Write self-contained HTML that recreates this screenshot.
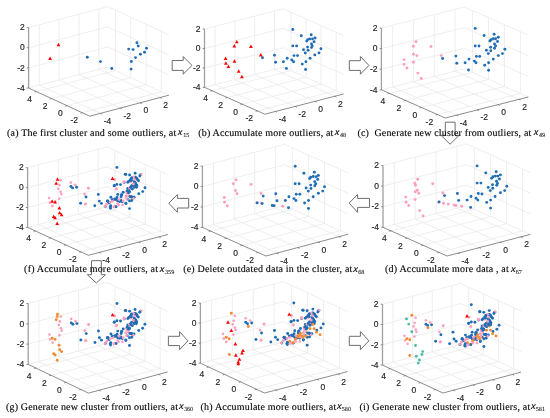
<!DOCTYPE html>
<html><head><meta charset="utf-8"><title>Incremental clustering process</title>
<style>
html,body{margin:0;padding:0;background:#fff;}
body{width:550px;height:418px;overflow:hidden;}
svg{display:block;}
.g{fill:none;stroke:#eaeaea;stroke-width:0.8;}
.ax{fill:none;stroke:#707070;stroke-width:0.8;}
.zax{fill:none;stroke:#a0a0a0;stroke-width:1.3;}
.tl text{font-family:"Liberation Sans",Arial,sans-serif;font-size:8.5px;fill:#222;stroke:#222;stroke-width:0.15px;}
.b{fill:#1f6db5;}
.p{fill:#ff9ebb;}
.o,.q{fill:#f28b32;}
.t{fill:#4dbba6;}
.r{fill:#ff0000;}
.arr{fill:#fff;stroke:#6e6e6e;stroke-width:1;stroke-linejoin:miter;}
.cap{font-family:"Liberation Serif","Times New Roman",serif;font-size:10px;fill:#000;stroke:#000;stroke-width:0.12px;text-rendering:geometricPrecision;}
.xi{font-style:italic;font-size:10.5px;}
.sub{font-size:12.4px;stroke:#333;stroke-width:0.2px;fill:#222;}
</style></head><body>
<svg width="550" height="418" viewBox="0 0 550 418">
<path class="g" d="M39.28 85.17L100.48 113.37M59.13 79.89L120.33 108.09M78.99 74.62L140.19 102.82M98.84 69.35L160.04 97.55M36.37 91.58L115.47 70.58M51.67 98.63L130.77 77.63M66.97 105.68L146.07 84.68M82.27 112.73L161.37 91.73M39.28 85.17L39.28 24.77M59.13 79.89L59.13 19.49M78.99 74.62L78.99 14.22M98.84 69.35L98.84 8.95M28.6 88L107.7 67M28.6 67.87L107.7 46.87M28.6 47.73L107.7 26.73M28.6 27.6L107.7 6.6M115.47 70.58L115.47 10.18M130.77 77.63L130.77 17.23M146.07 84.68L146.07 24.28M161.37 91.73L161.37 31.33M107.7 67L168.9 95.2M107.7 46.87L168.9 75.07M107.7 26.73L168.9 54.93M107.7 6.6L168.9 34.8"/>
<path class="zax" d="M28.6 88L28.6 27.6"/>
<path class="ax" d="M28.6 88L89.8 116.2M89.8 116.2L168.9 95.2M28.6 88L26.8 88M28.6 67.87L26.8 67.87M28.6 47.73L26.8 47.73M28.6 27.6L26.8 27.6M36.37 91.58L34.63 92.04M51.67 98.63L49.93 99.09M66.97 105.68L65.23 106.14M82.27 112.73L80.53 113.19M100.48 113.37L102.11 114.12M120.33 108.09L121.97 108.85M140.19 102.82L141.82 103.58M160.04 97.55L161.68 98.31"/>
<g class="tl"><text x="24.7" y="90.7" text-anchor="end">-4</text><text x="24.7" y="70.57" text-anchor="end">-2</text><text x="24.7" y="50.43" text-anchor="end">0</text><text x="24.7" y="30.3" text-anchor="end">2</text><text x="32.07" y="102.08" text-anchor="end">4</text><text x="47.37" y="109.13" text-anchor="end">2</text><text x="62.67" y="116.18" text-anchor="end">0</text><text x="77.97" y="123.23" text-anchor="end">-2</text><text x="103.68" y="123.87">-4</text><text x="123.53" y="118.59">-2</text><text x="143.39" y="113.32">0</text><text x="163.24" y="108.05">2</text></g>
<path class="g" d="M215.14 84.67L275.44 111.47M234.92 79.6L295.22 106.4M254.7 74.53L315 101.33M274.47 69.46L334.77 96.26M212.16 90.8L290.96 70.6M227.23 97.5L306.03 77.3M242.31 104.2L321.11 84M257.38 110.9L336.18 90.7M215.14 84.67L215.14 26.27M234.92 79.6L234.92 21.2M254.7 74.53L254.7 16.13M274.47 69.46L274.47 11.06M204.5 87.4L283.3 67.2M204.5 67.93L283.3 47.73M204.5 48.47L283.3 28.27M204.5 29L283.3 8.8M290.96 70.6L290.96 12.2M306.03 77.3L306.03 18.9M321.11 84L321.11 25.6M336.18 90.7L336.18 32.3M283.3 67.2L343.6 94M283.3 47.73L343.6 74.53M283.3 28.27L343.6 55.07M283.3 8.8L343.6 35.6"/>
<path class="zax" d="M204.5 87.4L204.5 29"/>
<path class="ax" d="M204.5 87.4L264.8 114.2M264.8 114.2L343.6 94M204.5 87.4L202.7 87.4M204.5 67.93L202.7 67.93M204.5 48.47L202.7 48.47M204.5 29L202.7 29M212.16 90.8L210.41 91.25M227.23 97.5L225.49 97.95M242.31 104.2L240.56 104.65M257.38 110.9L255.64 111.35M275.44 111.47L277.08 112.2M295.22 106.4L296.86 107.13M315 101.33L316.64 102.06M334.77 96.26L336.42 96.99"/>
<g class="tl"><text x="200.6" y="90.1" text-anchor="end">-4</text><text x="200.6" y="70.63" text-anchor="end">-2</text><text x="200.6" y="51.17" text-anchor="end">0</text><text x="200.6" y="31.7" text-anchor="end">2</text><text x="207.86" y="101.3" text-anchor="end">4</text><text x="222.93" y="108" text-anchor="end">2</text><text x="238.01" y="114.7" text-anchor="end">0</text><text x="253.08" y="121.4" text-anchor="end">-2</text><text x="278.64" y="121.97">-4</text><text x="298.42" y="116.9">-2</text><text x="318.2" y="111.83">0</text><text x="337.97" y="106.76">2</text></g>
<path class="g" d="M392.6 86.97L456.5 115.17M413.44 81.69L477.34 109.89M434.27 76.42L498.17 104.62M455.1 71.15L519 99.35M389.52 93.38L472.52 72.38M405.49 100.43L488.49 79.43M421.47 107.48L504.47 86.48M437.44 114.53L520.44 93.53M392.6 86.97L392.6 25.17M413.44 81.69L413.44 19.89M434.27 76.42L434.27 14.62M455.1 71.15L455.1 9.35M381.4 89.8L464.4 68.8M381.4 69.2L464.4 48.2M381.4 48.6L464.4 27.6M381.4 28L464.4 7M472.52 72.38L472.52 10.58M488.49 79.43L488.49 17.63M504.47 86.48L504.47 24.68M520.44 93.53L520.44 31.73M464.4 68.8L528.3 97M464.4 48.2L528.3 76.4M464.4 27.6L528.3 55.8M464.4 7L528.3 35.2"/>
<path class="zax" d="M381.4 89.8L381.4 28"/>
<path class="ax" d="M381.4 89.8L445.3 118M445.3 118L528.3 97M381.4 89.8L379.6 89.8M381.4 69.2L379.6 69.2M381.4 48.6L379.6 48.6M381.4 28L379.6 28M389.52 93.38L387.77 93.82M405.49 100.43L403.75 100.87M421.47 107.48L419.72 107.92M437.44 114.53L435.7 114.97M456.5 115.17L458.15 115.89M477.34 109.89L478.98 110.62M498.17 104.62L499.82 105.35M519 99.35L520.65 100.08"/>
<g class="tl"><text x="377.5" y="92.5" text-anchor="end">-4</text><text x="377.5" y="71.9" text-anchor="end">-2</text><text x="377.5" y="51.3" text-anchor="end">0</text><text x="377.5" y="30.7" text-anchor="end">2</text><text x="385.22" y="103.88" text-anchor="end">4</text><text x="401.19" y="110.93" text-anchor="end">2</text><text x="417.17" y="117.98" text-anchor="end">0</text><text x="433.14" y="125.03" text-anchor="end">-2</text><text x="459.7" y="125.67">-4</text><text x="480.54" y="120.39">-2</text><text x="501.37" y="115.12">0</text><text x="522.2" y="109.85">2</text></g>
<path class="g" d="M394.26 224.38L458.26 253.08M415.19 218.96L479.19 247.66M436.13 213.54L500.13 242.24M457.06 208.12L521.06 236.82M391.13 230.94L474.53 209.34M407.13 238.12L490.53 216.52M423.13 245.29L506.53 223.69M439.13 252.47L522.53 230.87M394.26 224.38L394.26 162.58M415.19 218.96L415.19 157.16M436.13 213.54L436.13 151.74M457.06 208.12L457.06 146.32M383 227.3L466.4 205.7M383 206.7L466.4 185.1M383 186.1L466.4 164.5M383 165.5L466.4 143.9M474.53 209.34L474.53 147.54M490.53 216.52L490.53 154.72M506.53 223.69L506.53 161.89M522.53 230.87L522.53 169.07M466.4 205.7L530.4 234.4M466.4 185.1L530.4 213.8M466.4 164.5L530.4 193.2M466.4 143.9L530.4 172.6"/>
<path class="zax" d="M383 227.3L383 165.5"/>
<path class="ax" d="M383 227.3L447 256M447 256L530.4 234.4M383 227.3L381.2 227.3M383 206.7L381.2 206.7M383 186.1L381.2 186.1M383 165.5L381.2 165.5M391.13 230.94L389.39 231.4M407.13 238.12L405.39 238.57M423.13 245.29L421.39 245.75M439.13 252.47L437.39 252.92M458.26 253.08L459.9 253.82M479.19 247.66L480.83 248.4M500.13 242.24L501.77 242.98M521.06 236.82L522.7 237.56"/>
<g class="tl"><text x="379.1" y="230" text-anchor="end">-4</text><text x="379.1" y="209.4" text-anchor="end">-2</text><text x="379.1" y="188.8" text-anchor="end">0</text><text x="379.1" y="168.2" text-anchor="end">2</text><text x="386.83" y="241.44" text-anchor="end">4</text><text x="402.83" y="248.62" text-anchor="end">2</text><text x="418.83" y="255.79" text-anchor="end">0</text><text x="434.83" y="262.97" text-anchor="end">-2</text><text x="461.46" y="263.58">-4</text><text x="482.39" y="258.16">-2</text><text x="503.33" y="252.74">0</text><text x="524.26" y="247.32">2</text></g>
<path class="g" d="M213.5 224.46L277.1 253.06M234.13 218.99L297.73 247.59M254.76 213.51L318.36 242.11M275.39 208.04L338.99 236.64M210.48 231.03L292.68 209.23M226.38 238.18L308.58 216.38M242.28 245.33L324.48 223.53M258.18 252.48L340.38 230.68M213.5 224.46L213.5 163.16M234.13 218.99L234.13 157.69M254.76 213.51L254.76 152.21M275.39 208.04L275.39 146.74M202.4 227.4L284.6 205.6M202.4 206.97L284.6 185.17M202.4 186.53L284.6 164.73M202.4 166.1L284.6 144.3M292.68 209.23L292.68 147.93M308.58 216.38L308.58 155.08M324.48 223.53L324.48 162.23M340.38 230.68L340.38 169.38M284.6 205.6L348.2 234.2M284.6 185.17L348.2 213.77M284.6 164.73L348.2 193.33M284.6 144.3L348.2 172.9"/>
<path class="zax" d="M202.4 227.4L202.4 166.1"/>
<path class="ax" d="M202.4 227.4L266 256M266 256L348.2 234.2M202.4 227.4L200.6 227.4M202.4 206.97L200.6 206.97M202.4 186.53L200.6 186.53M202.4 166.1L200.6 166.1M210.48 231.03L208.74 231.49M226.38 238.18L224.64 238.64M242.28 245.33L240.54 245.79M258.18 252.48L256.44 252.94M277.1 253.06L278.74 253.8M297.73 247.59L299.37 248.32M318.36 242.11L320 242.85M338.99 236.64L340.64 237.38"/>
<g class="tl"><text x="198.5" y="230.1" text-anchor="end">-4</text><text x="198.5" y="209.67" text-anchor="end">-2</text><text x="198.5" y="189.23" text-anchor="end">0</text><text x="198.5" y="168.8" text-anchor="end">2</text><text x="206.18" y="241.53" text-anchor="end">4</text><text x="222.08" y="248.68" text-anchor="end">2</text><text x="237.98" y="255.83" text-anchor="end">0</text><text x="253.88" y="262.98" text-anchor="end">-2</text><text x="280.3" y="263.56">-4</text><text x="300.93" y="258.09">-2</text><text x="321.56" y="252.61">0</text><text x="342.19" y="247.14">2</text></g>
<path class="g" d="M38.33 224.59L99.13 252.49M58.29 219.37L119.09 247.27M78.24 214.15L139.04 242.05M98.2 208.93L159 236.83M35.32 230.94L114.82 210.14M50.52 237.92L130.02 217.12M65.72 244.89L145.22 224.09M80.92 251.87L160.42 231.07M38.33 224.59L38.33 164.89M58.29 219.37L58.29 159.67M78.24 214.15L78.24 154.45M98.2 208.93L98.2 149.23M27.6 227.4L107.1 206.6M27.6 207.5L107.1 186.7M27.6 187.6L107.1 166.8M27.6 167.7L107.1 146.9M114.82 210.14L114.82 150.44M130.02 217.12L130.02 157.42M145.22 224.09L145.22 164.39M160.42 231.07L160.42 171.37M107.1 206.6L167.9 234.5M107.1 186.7L167.9 214.6M107.1 166.8L167.9 194.7M107.1 146.9L167.9 174.8"/>
<path class="zax" d="M27.6 227.4L27.6 167.7"/>
<path class="ax" d="M27.6 227.4L88.4 255.3M88.4 255.3L167.9 234.5M27.6 227.4L25.8 227.4M27.6 207.5L25.8 207.5M27.6 187.6L25.8 187.6M27.6 167.7L25.8 167.7M35.32 230.94L33.58 231.4M50.52 237.92L48.78 238.37M65.72 244.89L63.98 245.35M80.92 251.87L79.18 252.32M99.13 252.49L100.77 253.24M119.09 247.27L120.72 248.02M139.04 242.05L140.68 242.8M159 236.83L160.63 237.58"/>
<g class="tl"><text x="23.7" y="230.1" text-anchor="end">-4</text><text x="23.7" y="210.2" text-anchor="end">-2</text><text x="23.7" y="190.3" text-anchor="end">0</text><text x="23.7" y="170.4" text-anchor="end">2</text><text x="31.02" y="241.44" text-anchor="end">4</text><text x="46.22" y="248.42" text-anchor="end">2</text><text x="61.42" y="255.39" text-anchor="end">0</text><text x="76.62" y="262.37" text-anchor="end">-2</text><text x="102.33" y="262.99">-4</text><text x="122.29" y="257.77">-2</text><text x="142.24" y="252.55">0</text><text x="162.2" y="247.33">2</text></g>
<path class="g" d="M38.88 361.55L99.18 390.25M58.73 356.26L119.03 384.96M78.59 350.96L138.89 379.66M98.44 345.66L158.74 374.36M35.86 368.04L114.96 346.94M50.93 375.22L130.03 354.12M66.01 382.39L145.11 361.29M81.08 389.57L160.18 368.47M38.88 361.55L38.88 300.75M58.73 356.26L58.73 295.46M78.59 350.96L78.59 290.16M98.44 345.66L98.44 284.86M28.2 364.4L107.3 343.3M28.2 344.13L107.3 323.03M28.2 323.87L107.3 302.77M28.2 303.6L107.3 282.5M114.96 346.94L114.96 286.14M130.03 354.12L130.03 293.32M145.11 361.29L145.11 300.49M160.18 368.47L160.18 307.67M107.3 343.3L167.6 372M107.3 323.03L167.6 351.73M107.3 302.77L167.6 331.47M107.3 282.5L167.6 311.2"/>
<path class="zax" d="M28.2 364.4L28.2 303.6"/>
<path class="ax" d="M28.2 364.4L88.5 393.1M88.5 393.1L167.6 372M28.2 364.4L26.4 364.4M28.2 344.13L26.4 344.13M28.2 323.87L26.4 323.87M28.2 303.6L26.4 303.6M35.86 368.04L34.12 368.51M50.93 375.22L49.19 375.68M66.01 382.39L64.27 382.86M81.08 389.57L79.34 390.03M99.18 390.25L100.8 391.03M119.03 384.96L120.66 385.73M138.89 379.66L140.51 380.43M158.74 374.36L160.37 375.14"/>
<g class="tl"><text x="24.3" y="367.1" text-anchor="end">-4</text><text x="24.3" y="346.83" text-anchor="end">-2</text><text x="24.3" y="326.57" text-anchor="end">0</text><text x="24.3" y="306.3" text-anchor="end">2</text><text x="31.56" y="378.54" text-anchor="end">4</text><text x="46.63" y="385.72" text-anchor="end">2</text><text x="61.71" y="392.89" text-anchor="end">0</text><text x="76.78" y="400.07" text-anchor="end">-2</text><text x="102.38" y="400.75">-4</text><text x="122.23" y="395.46">-2</text><text x="142.09" y="390.16">0</text><text x="161.94" y="384.86">2</text></g>
<path class="g" d="M211.59 360.31L275.69 390.11M232.4 354.94L296.5 384.74M253.21 349.57L317.31 379.37M274.02 344.2L338.12 374M208.54 366.98L291.44 345.58M224.57 374.43L307.47 353.03M240.59 381.88L323.49 360.48M256.62 389.33L339.52 367.93M211.59 360.31L211.59 300.11M232.4 354.94L232.4 294.74M253.21 349.57L253.21 289.37M274.02 344.2L274.02 284M200.4 363.2L283.3 341.8M200.4 343.13L283.3 321.73M200.4 323.07L283.3 301.67M200.4 303L283.3 281.6M291.44 345.58L291.44 285.38M307.47 353.03L307.47 292.83M323.49 360.48L323.49 300.28M339.52 367.93L339.52 307.73M283.3 341.8L347.4 371.6M283.3 321.73L347.4 351.53M283.3 301.67L347.4 331.47M283.3 281.6L347.4 311.4"/>
<path class="zax" d="M200.4 363.2L200.4 303"/>
<path class="ax" d="M200.4 363.2L264.5 393M264.5 393L347.4 371.6M200.4 363.2L198.6 363.2M200.4 343.13L198.6 343.13M200.4 323.07L198.6 323.07M200.4 303L198.6 303M208.54 366.98L206.8 367.43M224.57 374.43L222.82 374.88M240.59 381.88L238.85 382.33M256.62 389.33L254.87 389.78M275.69 390.11L277.32 390.87M296.5 384.74L298.13 385.5M317.31 379.37L318.94 380.13M338.12 374L339.75 374.76"/>
<g class="tl"><text x="196.5" y="365.9" text-anchor="end">-4</text><text x="196.5" y="345.83" text-anchor="end">-2</text><text x="196.5" y="325.77" text-anchor="end">0</text><text x="196.5" y="305.7" text-anchor="end">2</text><text x="204.24" y="377.48" text-anchor="end">4</text><text x="220.27" y="384.93" text-anchor="end">2</text><text x="236.29" y="392.38" text-anchor="end">0</text><text x="252.32" y="399.83" text-anchor="end">-2</text><text x="278.89" y="400.61">-4</text><text x="299.7" y="395.24">-2</text><text x="320.51" y="389.87">0</text><text x="341.32" y="384.5">2</text></g>
<path class="g" d="M393.04 362.28L453.54 390.18M412.65 357.03L473.15 384.93M432.25 351.79L492.75 379.69M451.85 346.54L512.35 374.44M390.18 368.64L468.28 347.74M405.31 375.62L483.41 354.72M420.43 382.59L498.53 361.69M435.56 389.57L513.66 368.67M393.04 362.28L393.04 301.38M412.65 357.03L412.65 296.13M432.25 351.79L432.25 290.89M451.85 346.54L451.85 285.64M382.5 365.1L460.6 344.2M382.5 344.8L460.6 323.9M382.5 324.5L460.6 303.6M382.5 304.2L460.6 283.3M468.28 347.74L468.28 286.84M483.41 354.72L483.41 293.82M498.53 361.69L498.53 300.79M513.66 368.67L513.66 307.77M460.6 344.2L521.1 372.1M460.6 323.9L521.1 351.8M460.6 303.6L521.1 331.5M460.6 283.3L521.1 311.2"/>
<path class="zax" d="M382.5 365.1L382.5 304.2"/>
<path class="ax" d="M382.5 365.1L443 393M443 393L521.1 372.1M382.5 365.1L380.7 365.1M382.5 344.8L380.7 344.8M382.5 324.5L380.7 324.5M382.5 304.2L380.7 304.2M390.18 368.64L388.44 369.11M405.31 375.62L403.57 376.08M420.43 382.59L418.69 383.06M435.56 389.57L433.82 390.03M453.54 390.18L455.18 390.93M473.15 384.93L474.78 385.69M492.75 379.69L494.38 380.44M512.35 374.44L513.99 375.19"/>
<g class="tl"><text x="378.6" y="367.8" text-anchor="end">-4</text><text x="378.6" y="347.5" text-anchor="end">-2</text><text x="378.6" y="327.2" text-anchor="end">0</text><text x="378.6" y="306.9" text-anchor="end">2</text><text x="385.88" y="379.14" text-anchor="end">4</text><text x="401.01" y="386.12" text-anchor="end">2</text><text x="416.13" y="393.09" text-anchor="end">0</text><text x="431.26" y="400.07" text-anchor="end">-2</text><text x="456.74" y="400.68">-4</text><text x="476.35" y="395.43">-2</text><text x="495.95" y="390.19">0</text><text x="515.55" y="384.94">2</text></g>
<circle class="b" cx="138.2" cy="46" r="1.45"/>
<circle class="b" cx="133.1" cy="49.6" r="1.45"/>
<circle class="b" cx="144.5" cy="52.2" r="1.45"/>
<circle class="b" cx="100.5" cy="61.6" r="1.45"/>
<circle class="b" cx="140.4" cy="54.2" r="1.45"/>
<circle class="b" cx="131.1" cy="69.1" r="1.45"/>
<circle class="b" cx="128.7" cy="49.1" r="1.45"/>
<circle class="b" cx="135.5" cy="57.6" r="1.45"/>
<circle class="b" cx="146.5" cy="48.2" r="1.45"/>
<circle class="b" cx="136.9" cy="42.7" r="1.45"/>
<circle class="b" cx="111.8" cy="68.5" r="1.45"/>
<circle class="b" cx="87.3" cy="57.3" r="1.45"/>
<circle class="b" cx="131.3" cy="61.5" r="1.45"/>
<path class="r" d="M50.1 56.5L52 59.92L48.2 59.92Z"/>
<path class="r" d="M58.5 42.8L60.4 46.22L56.6 46.22Z"/>
<circle class="b" cx="314.1" cy="41.8" r="1.45"/>
<circle class="b" cx="294" cy="55.6" r="1.45"/>
<circle class="b" cx="314.8" cy="54.9" r="1.45"/>
<circle class="b" cx="262.5" cy="57.8" r="1.45"/>
<circle class="b" cx="274.5" cy="55.2" r="1.45"/>
<circle class="b" cx="307.5" cy="47.1" r="1.45"/>
<circle class="b" cx="301.3" cy="35.7" r="1.45"/>
<circle class="b" cx="311.5" cy="47.6" r="1.45"/>
<circle class="b" cx="303.5" cy="49.8" r="1.45"/>
<circle class="b" cx="297.5" cy="55.6" r="1.45"/>
<circle class="b" cx="311.2" cy="34.8" r="1.45"/>
<circle class="b" cx="305.6" cy="69.5" r="1.45"/>
<circle class="b" cx="312.2" cy="45.9" r="1.45"/>
<circle class="b" cx="305.9" cy="61.7" r="1.45"/>
<circle class="b" cx="292.8" cy="45.9" r="1.45"/>
<circle class="b" cx="291.8" cy="60" r="1.45"/>
<circle class="b" cx="319" cy="52.9" r="1.45"/>
<circle class="b" cx="307.8" cy="39.6" r="1.45"/>
<circle class="b" cx="275.6" cy="62.2" r="1.45"/>
<circle class="b" cx="310.1" cy="58.3" r="1.45"/>
<circle class="b" cx="283.4" cy="61.7" r="1.45"/>
<circle class="b" cx="305.3" cy="53" r="1.45"/>
<circle class="b" cx="309.7" cy="38.9" r="1.45"/>
<circle class="b" cx="308.1" cy="50.3" r="1.45"/>
<circle class="b" cx="293.6" cy="61.7" r="1.45"/>
<circle class="b" cx="315.1" cy="38" r="1.45"/>
<circle class="b" cx="320.9" cy="48.8" r="1.45"/>
<circle class="b" cx="287.2" cy="58.3" r="1.45"/>
<circle class="b" cx="286.4" cy="68.4" r="1.45"/>
<circle class="b" cx="302.3" cy="64.1" r="1.45"/>
<circle class="b" cx="296.6" cy="45.9" r="1.45"/>
<circle class="b" cx="292.8" cy="29.5" r="1.45"/>
<circle class="b" cx="311.5" cy="44" r="1.45"/>
<circle class="b" cx="312.5" cy="38.9" r="1.45"/>
<circle class="b" cx="306.8" cy="41.1" r="1.45"/>
<path class="r" d="M238.7 69.3L240.6 72.72L236.8 72.72Z"/>
<path class="r" d="M225.9 61.3L227.8 64.72L224 64.72Z"/>
<path class="r" d="M260.8 53L262.7 56.42L258.9 56.42Z"/>
<path class="r" d="M234.3 44L236.2 47.42L232.4 47.42Z"/>
<path class="r" d="M236.8 39.9L238.7 43.32L234.9 43.32Z"/>
<path class="r" d="M234.5 59.3L236.4 62.72L232.6 62.72Z"/>
<path class="r" d="M241.9 74.8L243.8 78.22L240 78.22Z"/>
<path class="r" d="M228.4 64.6L230.3 68.02L226.5 68.02Z"/>
<path class="r" d="M225.6 56.6L227.5 60.02L223.7 60.02Z"/>
<path class="r" d="M250.9 44.6L252.8 48.02L249 48.02Z"/>
<circle class="p" cx="404.1" cy="64.4" r="1.45"/>
<circle class="b" cx="497.5" cy="41.5" r="1.45"/>
<circle class="p" cx="404.1" cy="59.6" r="1.45"/>
<circle class="b" cx="476.4" cy="56.4" r="1.45"/>
<circle class="b" cx="498.3" cy="55.6" r="1.45"/>
<circle class="p" cx="417.9" cy="73.1" r="1.45"/>
<circle class="p" cx="413.5" cy="54.2" r="1.45"/>
<circle class="p" cx="421.3" cy="78.5" r="1.45"/>
<circle class="b" cx="490.6" cy="47.2" r="1.45"/>
<circle class="b" cx="484.1" cy="35.5" r="1.45"/>
<circle class="b" cx="494.5" cy="48.2" r="1.45"/>
<circle class="p" cx="413.3" cy="46.2" r="1.45"/>
<circle class="b" cx="486.4" cy="50.2" r="1.45"/>
<circle class="b" cx="479.7" cy="56.4" r="1.45"/>
<circle class="b" cx="494.1" cy="34.3" r="1.45"/>
<circle class="b" cx="484.7" cy="65.3" r="1.45"/>
<circle class="b" cx="495.6" cy="46" r="1.45"/>
<circle class="b" cx="456.8" cy="63.3" r="1.45"/>
<circle class="b" cx="475.2" cy="46" r="1.45"/>
<circle class="b" cx="493.3" cy="59.1" r="1.45"/>
<circle class="p" cx="416" cy="41.8" r="1.45"/>
<circle class="p" cx="441.2" cy="55.6" r="1.45"/>
<circle class="b" cx="502.5" cy="53.6" r="1.45"/>
<circle class="b" cx="491.1" cy="39.8" r="1.45"/>
<circle class="b" cx="442.6" cy="58.5" r="1.45"/>
<circle class="b" cx="469" cy="59.1" r="1.45"/>
<circle class="p" cx="407" cy="68" r="1.45"/>
<circle class="b" cx="476" cy="62.8" r="1.45"/>
<circle class="p" cx="413.5" cy="62.2" r="1.45"/>
<circle class="b" cx="488.6" cy="70.3" r="1.45"/>
<circle class="p" cx="416.9" cy="55.6" r="1.45"/>
<circle class="b" cx="488.3" cy="53.6" r="1.45"/>
<circle class="b" cx="468.5" cy="70" r="1.45"/>
<circle class="b" cx="493.3" cy="38.8" r="1.45"/>
<circle class="b" cx="490.8" cy="50.7" r="1.45"/>
<circle class="b" cx="474.4" cy="61.1" r="1.45"/>
<circle class="b" cx="498.3" cy="37.3" r="1.45"/>
<circle class="b" cx="504.9" cy="49.2" r="1.45"/>
<circle class="p" cx="431" cy="46.5" r="1.45"/>
<circle class="b" cx="455.9" cy="56.1" r="1.45"/>
<circle class="b" cx="465.1" cy="62.8" r="1.45"/>
<circle class="b" cx="488.6" cy="62.8" r="1.45"/>
<circle class="b" cx="479" cy="46" r="1.45"/>
<circle class="b" cx="475.2" cy="28.4" r="1.45"/>
<circle class="b" cx="494.5" cy="44" r="1.45"/>
<circle class="b" cx="495.6" cy="38.8" r="1.45"/>
<circle class="b" cx="489.9" cy="41" r="1.45"/>
<circle class="p" cx="415.1" cy="199.6" r="1.45"/>
<circle class="b" cx="457.4" cy="193.5" r="1.45"/>
<circle class="p" cx="418.7" cy="193.2" r="1.45"/>
<circle class="b" cx="497.5" cy="183.4" r="1.45"/>
<circle class="b" cx="496.5" cy="181.2" r="1.45"/>
<circle class="p" cx="408.7" cy="205.5" r="1.45"/>
<circle class="p" cx="432.7" cy="183.7" r="1.45"/>
<circle class="p" cx="419.6" cy="210.6" r="1.45"/>
<circle class="b" cx="485.8" cy="172.9" r="1.45"/>
<circle class="b" cx="467.1" cy="200.1" r="1.45"/>
<circle class="p" cx="438.8" cy="202.2" r="1.45"/>
<circle class="b" cx="477.1" cy="165.9" r="1.45"/>
<circle class="p" cx="414.8" cy="183.3" r="1.45"/>
<circle class="b" cx="470.6" cy="207.4" r="1.45"/>
<circle class="b" cx="497.9" cy="176.1" r="1.45"/>
<circle class="b" cx="496.7" cy="185.3" r="1.45"/>
<circle class="p" cx="443.5" cy="203.3" r="1.45"/>
<circle class="b" cx="500.4" cy="192.8" r="1.45"/>
<circle class="b" cx="476.1" cy="198.3" r="1.45"/>
<circle class="b" cx="439.1" cy="201.9" r="1.45"/>
<circle class="b" cx="506.8" cy="186.3" r="1.45"/>
<circle class="b" cx="496.2" cy="171.7" r="1.45"/>
<circle class="b" cx="480.9" cy="183.1" r="1.45"/>
<circle class="p" cx="417.7" cy="179.3" r="1.45"/>
<circle class="p" cx="415.3" cy="191.7" r="1.45"/>
<circle class="b" cx="491.7" cy="178.3" r="1.45"/>
<circle class="p" cx="461.7" cy="206.3" r="1.45"/>
<circle class="b" cx="490.6" cy="200.1" r="1.45"/>
<circle class="p" cx="423.1" cy="216" r="1.45"/>
<circle class="b" cx="477.1" cy="183.1" r="1.45"/>
<circle class="p" cx="406.1" cy="202.2" r="1.45"/>
<circle class="b" cx="492.8" cy="188.2" r="1.45"/>
<circle class="b" cx="490.6" cy="208.1" r="1.45"/>
<circle class="p" cx="405.8" cy="197.1" r="1.45"/>
<circle class="b" cx="481.9" cy="194" r="1.45"/>
<circle class="p" cx="417.3" cy="190.3" r="1.45"/>
<circle class="b" cx="499.4" cy="179" r="1.45"/>
<circle class="b" cx="478.3" cy="193.5" r="1.45"/>
<circle class="p" cx="455.8" cy="205.5" r="1.45"/>
<circle class="b" cx="495.4" cy="176.1" r="1.45"/>
<circle class="b" cx="488.2" cy="187.4" r="1.45"/>
<circle class="p" cx="448.3" cy="204.1" r="1.45"/>
<circle class="b" cx="493.1" cy="176.8" r="1.45"/>
<circle class="p" cx="415.5" cy="185.2" r="1.45"/>
<circle class="b" cx="492.5" cy="184.7" r="1.45"/>
<circle class="b" cx="490.3" cy="190.6" r="1.45"/>
<circle class="b" cx="495.1" cy="196.5" r="1.45"/>
<circle class="b" cx="486.7" cy="202.4" r="1.45"/>
<circle class="b" cx="504.7" cy="190.6" r="1.45"/>
<circle class="b" cx="500.4" cy="174.9" r="1.45"/>
<circle class="p" cx="442.9" cy="193" r="1.45"/>
<circle class="b" cx="458.7" cy="200.4" r="1.45"/>
<circle class="b" cx="471" cy="196.5" r="1.45"/>
<circle class="p" cx="454.1" cy="205.1" r="1.45"/>
<circle class="b" cx="444.6" cy="195.6" r="1.45"/>
<circle class="b" cx="477.8" cy="200.1" r="1.45"/>
<circle class="p" cx="261.1" cy="193.5" r="1.45"/>
<circle class="b" cx="314.4" cy="172.2" r="1.45"/>
<circle class="p" cx="224.6" cy="202.2" r="1.45"/>
<circle class="b" cx="306.1" cy="188" r="1.45"/>
<circle class="b" cx="299.1" cy="183.7" r="1.45"/>
<circle class="p" cx="257.1" cy="202.6" r="1.45"/>
<circle class="p" cx="235.5" cy="190.5" r="1.45"/>
<circle class="p" cx="282.8" cy="206.3" r="1.45"/>
<circle class="b" cx="310.7" cy="177.3" r="1.45"/>
<circle class="b" cx="277" cy="200.7" r="1.45"/>
<circle class="b" cx="313.3" cy="176.5" r="1.45"/>
<circle class="p" cx="233.4" cy="183.7" r="1.45"/>
<circle class="b" cx="314.7" cy="181.6" r="1.45"/>
<circle class="b" cx="311" cy="188.5" r="1.45"/>
<circle class="b" cx="257.1" cy="202.9" r="1.45"/>
<circle class="b" cx="294" cy="198.6" r="1.45"/>
<circle class="b" cx="288.5" cy="207.7" r="1.45"/>
<circle class="b" cx="316.3" cy="176.8" r="1.45"/>
<circle class="b" cx="299.8" cy="194.3" r="1.45"/>
<circle class="b" cx="309.6" cy="178.6" r="1.45"/>
<circle class="b" cx="308.3" cy="191.1" r="1.45"/>
<circle class="p" cx="236" cy="179.9" r="1.45"/>
<circle class="p" cx="224.3" cy="197.5" r="1.45"/>
<circle class="b" cx="310.7" cy="185.1" r="1.45"/>
<circle class="b" cx="295.2" cy="166.3" r="1.45"/>
<circle class="b" cx="263.2" cy="196.1" r="1.45"/>
<circle class="b" cx="322.7" cy="191.1" r="1.45"/>
<circle class="p" cx="261.4" cy="203.3" r="1.45"/>
<circle class="b" cx="296.2" cy="194.3" r="1.45"/>
<circle class="p" cx="227.3" cy="205.8" r="1.45"/>
<circle class="b" cx="285.3" cy="200.5" r="1.45"/>
<circle class="p" cx="237" cy="193.7" r="1.45"/>
<circle class="b" cx="295.2" cy="183.7" r="1.45"/>
<circle class="b" cx="295.9" cy="200.5" r="1.45"/>
<circle class="b" cx="274.1" cy="205.8" r="1.45"/>
<circle class="b" cx="315.8" cy="183.8" r="1.45"/>
<circle class="b" cx="318.4" cy="193.3" r="1.45"/>
<circle class="b" cx="262.2" cy="203.6" r="1.45"/>
<circle class="b" cx="314.8" cy="185.8" r="1.45"/>
<circle class="p" cx="251.1" cy="184.4" r="1.45"/>
<circle class="b" cx="324.5" cy="186.7" r="1.45"/>
<circle class="b" cx="313.2" cy="196.7" r="1.45"/>
<circle class="b" cx="304.6" cy="203" r="1.45"/>
<circle class="b" cx="288.9" cy="196.7" r="1.45"/>
<circle class="b" cx="317.7" cy="179.4" r="1.45"/>
<circle class="b" cx="275.8" cy="193.7" r="1.45"/>
<circle class="b" cx="318.4" cy="175.4" r="1.45"/>
<circle class="b" cx="308.5" cy="200.5" r="1.45"/>
<circle class="b" cx="272.2" cy="205.5" r="1.45"/>
<circle class="b" cx="303.9" cy="173.2" r="1.45"/>
<circle class="b" cx="308.5" cy="208.5" r="1.45"/>
<circle class="b" cx="136.8" cy="185.2" r="1.45"/>
<circle class="b" cx="109.5" cy="202.3" r="1.45"/>
<circle class="b" cx="116.9" cy="184.4" r="1.45"/>
<circle class="b" cx="129.3" cy="188.6" r="1.45"/>
<circle class="p" cx="52.2" cy="205.9" r="1.3"/>
<circle class="b" cx="72.6" cy="187.9" r="1.45"/>
<circle class="p" cx="116.5" cy="188.7" r="1.3"/>
<circle class="b" cx="135.5" cy="183.2" r="1.45"/>
<circle class="b" cx="105.3" cy="206.7" r="1.45"/>
<circle class="p" cx="59.1" cy="198.7" r="1.3"/>
<circle class="b" cx="134.7" cy="182.5" r="1.45"/>
<circle class="p" cx="132.7" cy="188.7" r="1.3"/>
<circle class="b" cx="140.6" cy="174.8" r="1.45"/>
<circle class="b" cx="131.2" cy="196.8" r="1.45"/>
<circle class="p" cx="126" cy="196.4" r="1.3"/>
<circle class="b" cx="132" cy="177.7" r="1.45"/>
<circle class="p" cx="75.2" cy="184.8" r="1.3"/>
<circle class="p" cx="60.5" cy="191.8" r="1.3"/>
<circle class="b" cx="127.8" cy="188.4" r="1.45"/>
<circle class="b" cx="119.8" cy="201.6" r="1.45"/>
<circle class="p" cx="88.4" cy="188.4" r="1.3"/>
<circle class="b" cx="131.4" cy="186.6" r="1.45"/>
<circle class="b" cx="110.2" cy="207" r="1.45"/>
<circle class="b" cx="134.1" cy="181.5" r="1.45"/>
<circle class="b" cx="138.4" cy="180.7" r="1.45"/>
<circle class="p" cx="132.3" cy="198.2" r="1.3"/>
<circle class="p" cx="128.6" cy="195.5" r="1.3"/>
<circle class="b" cx="112.3" cy="199.6" r="1.45"/>
<circle class="p" cx="105" cy="206.6" r="1.3"/>
<circle class="b" cx="136.2" cy="185.8" r="1.45"/>
<circle class="p" cx="126.8" cy="193.6" r="1.3"/>
<circle class="b" cx="130" cy="196.8" r="1.45"/>
<circle class="p" cx="59.4" cy="185.1" r="1.3"/>
<circle class="b" cx="110.9" cy="197.3" r="1.45"/>
<circle class="b" cx="133.4" cy="184.5" r="1.45"/>
<circle class="p" cx="85.7" cy="203.7" r="1.3"/>
<circle class="b" cx="136.8" cy="178.4" r="1.45"/>
<circle class="b" cx="136.2" cy="178.2" r="1.45"/>
<circle class="b" cx="114.1" cy="199.5" r="1.45"/>
<circle class="p" cx="106.8" cy="204.1" r="1.3"/>
<circle class="p" cx="120.3" cy="199.5" r="1.3"/>
<circle class="b" cx="134.8" cy="177.1" r="1.45"/>
<circle class="p" cx="114.7" cy="179.7" r="1.3"/>
<circle class="b" cx="115.9" cy="199.1" r="1.45"/>
<circle class="b" cx="118.2" cy="200.9" r="1.45"/>
<circle class="p" cx="114.3" cy="199.6" r="1.3"/>
<circle class="b" cx="134" cy="186.2" r="1.45"/>
<circle class="b" cx="132.7" cy="197.5" r="1.45"/>
<circle class="b" cx="107.7" cy="201.1" r="1.45"/>
<circle class="b" cx="142.7" cy="191.6" r="1.45"/>
<circle class="b" cx="127.8" cy="182.2" r="1.45"/>
<circle class="p" cx="122.5" cy="205" r="1.3"/>
<circle class="p" cx="116.4" cy="188.9" r="1.3"/>
<circle class="p" cx="125.9" cy="196.2" r="1.3"/>
<circle class="p" cx="114.5" cy="206.4" r="1.3"/>
<circle class="b" cx="98.3" cy="194.4" r="1.45"/>
<circle class="p" cx="130.7" cy="181.8" r="1.3"/>
<circle class="p" cx="60.5" cy="180.3" r="1.3"/>
<circle class="b" cx="131.4" cy="180.5" r="1.45"/>
<circle class="b" cx="125.9" cy="203.6" r="1.45"/>
<circle class="b" cx="117" cy="197.5" r="1.45"/>
<circle class="b" cx="123.2" cy="192.3" r="1.45"/>
<circle class="b" cx="134.1" cy="187.3" r="1.45"/>
<circle class="b" cx="115.7" cy="199.6" r="1.45"/>
<circle class="p" cx="49.1" cy="198" r="1.3"/>
<circle class="b" cx="134.1" cy="197.3" r="1.45"/>
<circle class="p" cx="134.1" cy="183.9" r="1.3"/>
<circle class="b" cx="124.2" cy="182.5" r="1.45"/>
<circle class="b" cx="131.8" cy="185.8" r="1.45"/>
<circle class="b" cx="135.5" cy="177.2" r="1.45"/>
<circle class="p" cx="129.3" cy="188" r="1.3"/>
<circle class="b" cx="137.4" cy="179.6" r="1.45"/>
<circle class="b" cx="138.8" cy="193.8" r="1.45"/>
<circle class="p" cx="133.4" cy="198.2" r="1.3"/>
<circle class="b" cx="131.4" cy="196.8" r="1.45"/>
<circle class="p" cx="84.5" cy="194.1" r="1.3"/>
<circle class="p" cx="124.5" cy="181.8" r="1.3"/>
<circle class="p" cx="70.9" cy="182.6" r="1.3"/>
<circle class="b" cx="145" cy="187.7" r="1.45"/>
<circle class="p" cx="127.3" cy="192" r="1.3"/>
<circle class="b" cx="109" cy="202.8" r="1.45"/>
<circle class="b" cx="114.4" cy="185.5" r="1.45"/>
<circle class="b" cx="121.1" cy="196.8" r="1.45"/>
<circle class="b" cx="129.6" cy="174.9" r="1.45"/>
<circle class="b" cx="117.7" cy="200.9" r="1.45"/>
<circle class="b" cx="120.9" cy="200.5" r="1.45"/>
<circle class="b" cx="70.9" cy="186.5" r="1.45"/>
<circle class="p" cx="49.8" cy="202.7" r="1.3"/>
<circle class="b" cx="125.9" cy="203.2" r="1.45"/>
<circle class="p" cx="106.8" cy="204.3" r="1.3"/>
<circle class="p" cx="61.3" cy="194.1" r="1.3"/>
<circle class="p" cx="126.4" cy="191.6" r="1.3"/>
<circle class="b" cx="114.1" cy="185.9" r="1.45"/>
<circle class="b" cx="127.3" cy="199.1" r="1.45"/>
<circle class="b" cx="80.6" cy="203.3" r="1.45"/>
<circle class="p" cx="110.2" cy="202.3" r="1.3"/>
<circle class="p" cx="123.8" cy="181.5" r="1.3"/>
<circle class="b" cx="107.4" cy="201.1" r="1.45"/>
<circle class="p" cx="141.3" cy="174.4" r="1.3"/>
<circle class="p" cx="132" cy="188" r="1.3"/>
<circle class="b" cx="122.3" cy="201.8" r="1.45"/>
<circle class="b" cx="101.4" cy="203.4" r="1.45"/>
<circle class="b" cx="128.6" cy="192.7" r="1.45"/>
<circle class="b" cx="110.5" cy="208.2" r="1.45"/>
<circle class="p" cx="133.6" cy="177.1" r="1.3"/>
<circle class="b" cx="129.3" cy="191.6" r="1.45"/>
<circle class="p" cx="134.6" cy="179.6" r="1.3"/>
<circle class="b" cx="131.5" cy="178.2" r="1.45"/>
<circle class="p" cx="58.4" cy="188.7" r="1.3"/>
<circle class="b" cx="135.1" cy="173.2" r="1.45"/>
<circle class="b" cx="76.6" cy="187.2" r="1.45"/>
<circle class="b" cx="120.5" cy="184.6" r="1.45"/>
<circle class="b" cx="129.5" cy="208.6" r="1.45"/>
<circle class="p" cx="112.5" cy="201.3" r="1.3"/>
<circle class="b" cx="131.8" cy="200.5" r="1.45"/>
<circle class="b" cx="99.3" cy="201.1" r="1.45"/>
<circle class="p" cx="123.2" cy="200.9" r="1.3"/>
<circle class="b" cx="139.8" cy="176" r="1.45"/>
<circle class="p" cx="117.7" cy="203.6" r="1.3"/>
<circle class="p" cx="88.4" cy="188" r="1.3"/>
<circle class="b" cx="86" cy="197" r="1.45"/>
<circle class="b" cx="135.8" cy="184" r="1.45"/>
<circle class="b" cx="116.1" cy="206.7" r="1.45"/>
<circle class="p" cx="119.1" cy="199.6" r="1.3"/>
<circle class="b" cx="125.8" cy="174.4" r="1.45"/>
<circle class="p" cx="118.6" cy="205" r="1.3"/>
<circle class="b" cx="132.3" cy="189.1" r="1.45"/>
<circle class="b" cx="128.9" cy="181.1" r="1.45"/>
<circle class="p" cx="85.2" cy="204.2" r="1.3"/>
<circle class="b" cx="116.9" cy="167.4" r="1.45"/>
<circle class="b" cx="107.5" cy="200.9" r="1.45"/>
<circle class="p" cx="124.1" cy="182.3" r="1.3"/>
<circle class="b" cx="129.5" cy="191.8" r="1.45"/>
<circle class="b" cx="130.7" cy="187.3" r="1.45"/>
<circle class="b" cx="127.3" cy="190.7" r="1.45"/>
<circle class="b" cx="110.7" cy="205.8" r="1.45"/>
<circle class="p" cx="113.6" cy="207" r="1.3"/>
<circle class="b" cx="94.8" cy="205.7" r="1.45"/>
<circle class="b" cx="136.4" cy="187.3" r="1.45"/>
<circle class="b" cx="117.7" cy="194.5" r="1.45"/>
<circle class="b" cx="114.9" cy="198.9" r="1.45"/>
<circle class="b" cx="125.3" cy="174.3" r="1.45"/>
<circle class="p" cx="133.3" cy="184" r="1.3"/>
<circle class="b" cx="129.5" cy="200.9" r="1.45"/>
<circle class="b" cx="121.4" cy="195" r="1.45"/>
<circle class="p" cx="114.4" cy="179.5" r="1.3"/>
<circle class="p" cx="126.6" cy="198.9" r="1.3"/>
<circle class="b" cx="130.4" cy="179.6" r="1.45"/>
<circle class="b" cx="121.8" cy="194.8" r="1.45"/>
<path class="r" d="M55.1 200L57 203.42L53.2 203.42Z"/>
<path class="r" d="M55.1 215.9L57 219.32L53.2 219.32Z"/>
<path class="r" d="M61.6 212.9L63.5 216.32L59.7 216.32Z"/>
<path class="r" d="M52.2 199.4L54.1 202.82L50.3 202.82Z"/>
<path class="r" d="M57.5 177.4L59.4 180.82L55.6 180.82Z"/>
<path class="r" d="M57.2 221.5L59.1 224.92L55.3 224.92Z"/>
<path class="r" d="M59.7 210.9L61.6 214.32L57.8 214.32Z"/>
<path class="r" d="M53.7 214.7L55.6 218.12L51.8 218.12Z"/>
<path class="r" d="M56.2 181.4L58.1 184.82L54.3 184.82Z"/>
<path class="r" d="M59.4 206.1L61.3 209.52L57.5 209.52Z"/>
<path class="r" d="M112.5 176.6L114.4 180.02L110.6 180.02Z"/>
<circle class="b" cx="136.73" cy="321.68" r="1.45"/>
<circle class="b" cx="109.58" cy="339.05" r="1.45"/>
<circle class="b" cx="116.95" cy="320.82" r="1.45"/>
<circle class="b" cx="129.27" cy="325.13" r="1.45"/>
<circle class="p" cx="52.63" cy="342.59" r="1.3"/>
<circle class="b" cx="72.92" cy="324.28" r="1.45"/>
<circle class="p" cx="116.55" cy="325.2" r="1.3"/>
<circle class="b" cx="135.44" cy="319.64" r="1.45"/>
<circle class="b" cx="105.4" cy="343.53" r="1.45"/>
<circle class="p" cx="59.49" cy="335.26" r="1.3"/>
<circle class="b" cx="134.64" cy="318.92" r="1.45"/>
<circle class="p" cx="132.65" cy="325.24" r="1.3"/>
<circle class="b" cx="140.51" cy="311.08" r="1.45"/>
<circle class="b" cx="131.15" cy="333.49" r="1.45"/>
<circle class="p" cx="125.98" cy="333.07" r="1.3"/>
<circle class="b" cx="131.96" cy="314.02" r="1.45"/>
<circle class="p" cx="75.51" cy="321.13" r="1.3"/>
<circle class="p" cx="60.89" cy="328.23" r="1.3"/>
<circle class="b" cx="127.78" cy="324.92" r="1.45"/>
<circle class="b" cx="119.81" cy="338.36" r="1.45"/>
<circle class="p" cx="88.62" cy="324.83" r="1.3"/>
<circle class="b" cx="131.36" cy="323.09" r="1.45"/>
<circle class="b" cx="110.27" cy="343.85" r="1.45"/>
<circle class="b" cx="134.05" cy="317.9" r="1.45"/>
<circle class="b" cx="138.32" cy="317.09" r="1.45"/>
<circle class="p" cx="132.24" cy="334.92" r="1.3"/>
<circle class="p" cx="128.57" cy="332.16" r="1.3"/>
<circle class="b" cx="112.36" cy="336.31" r="1.45"/>
<circle class="p" cx="105.1" cy="343.43" r="1.3"/>
<circle class="b" cx="136.13" cy="322.29" r="1.45"/>
<circle class="p" cx="126.78" cy="330.22" r="1.3"/>
<circle class="b" cx="129.96" cy="333.49" r="1.45"/>
<circle class="p" cx="59.8" cy="321.4" r="1.3"/>
<circle class="b" cx="110.97" cy="333.96" r="1.45"/>
<circle class="b" cx="133.35" cy="320.96" r="1.45"/>
<circle class="p" cx="85.92" cy="340.42" r="1.3"/>
<circle class="b" cx="136.73" cy="314.75" r="1.45"/>
<circle class="b" cx="136.14" cy="314.54" r="1.45"/>
<circle class="b" cx="114.15" cy="336.21" r="1.45"/>
<circle class="p" cx="106.89" cy="340.88" r="1.3"/>
<circle class="p" cx="120.31" cy="336.22" r="1.3"/>
<circle class="b" cx="134.75" cy="313.42" r="1.45"/>
<circle class="p" cx="114.77" cy="316.02" r="1.3"/>
<circle class="b" cx="115.94" cy="335.8" r="1.45"/>
<circle class="b" cx="118.22" cy="337.64" r="1.45"/>
<circle class="p" cx="114.35" cy="336.31" r="1.3"/>
<circle class="b" cx="133.94" cy="322.69" r="1.45"/>
<circle class="b" cx="132.64" cy="334.21" r="1.45"/>
<circle class="b" cx="107.79" cy="337.82" r="1.45"/>
<circle class="b" cx="142.58" cy="328.22" r="1.45"/>
<circle class="b" cx="127.78" cy="318.6" r="1.45"/>
<circle class="p" cx="122.49" cy="341.84" r="1.3"/>
<circle class="p" cx="116.45" cy="325.4" r="1.3"/>
<circle class="p" cx="125.88" cy="332.87" r="1.3"/>
<circle class="p" cx="114.54" cy="343.24" r="1.3"/>
<circle class="b" cx="98.45" cy="330.97" r="1.45"/>
<circle class="p" cx="130.67" cy="318.2" r="1.3"/>
<circle class="p" cx="60.9" cy="316.5" r="1.3"/>
<circle class="b" cx="131.36" cy="316.87" r="1.45"/>
<circle class="b" cx="125.87" cy="340.42" r="1.45"/>
<circle class="b" cx="117.03" cy="334.17" r="1.45"/>
<circle class="b" cx="123.2" cy="328.89" r="1.45"/>
<circle class="b" cx="134.04" cy="323.81" r="1.45"/>
<circle class="b" cx="115.74" cy="336.31" r="1.45"/>
<circle class="p" cx="49.55" cy="334.52" r="1.3"/>
<circle class="b" cx="134.03" cy="334.01" r="1.45"/>
<circle class="p" cx="134.04" cy="320.35" r="1.3"/>
<circle class="b" cx="124.21" cy="318.9" r="1.45"/>
<circle class="b" cx="131.76" cy="322.28" r="1.45"/>
<circle class="b" cx="135.44" cy="313.52" r="1.45"/>
<circle class="p" cx="129.27" cy="324.52" r="1.3"/>
<circle class="b" cx="137.33" cy="315.97" r="1.45"/>
<circle class="b" cx="138.7" cy="330.45" r="1.45"/>
<circle class="p" cx="133.33" cy="334.93" r="1.3"/>
<circle class="b" cx="131.35" cy="333.5" r="1.45"/>
<circle class="p" cx="84.74" cy="330.63" r="1.3"/>
<circle class="p" cx="124.51" cy="318.18" r="1.3"/>
<circle class="p" cx="71.24" cy="318.87" r="1.3"/>
<circle class="b" cx="144.87" cy="324.25" r="1.45"/>
<circle class="p" cx="127.28" cy="328.59" r="1.3"/>
<circle class="b" cx="109.08" cy="339.56" r="1.45"/>
<circle class="b" cx="114.46" cy="321.93" r="1.45"/>
<circle class="b" cx="121.11" cy="333.47" r="1.45"/>
<circle class="b" cx="129.58" cy="311.16" r="1.45"/>
<circle class="b" cx="117.73" cy="337.64" r="1.45"/>
<circle class="b" cx="120.91" cy="337.24" r="1.45"/>
<circle class="b" cx="71.23" cy="322.85" r="1.45"/>
<circle class="p" cx="50.24" cy="339.32" r="1.3"/>
<circle class="b" cx="125.87" cy="340.01" r="1.45"/>
<circle class="p" cx="106.89" cy="341.08" r="1.3"/>
<circle class="p" cx="61.68" cy="330.58" r="1.3"/>
<circle class="p" cx="126.38" cy="328.18" r="1.3"/>
<circle class="b" cx="114.17" cy="322.34" r="1.45"/>
<circle class="b" cx="127.27" cy="335.83" r="1.45"/>
<circle class="b" cx="80.85" cy="340" r="1.45"/>
<circle class="p" cx="110.27" cy="339.05" r="1.3"/>
<circle class="p" cx="123.81" cy="317.88" r="1.3"/>
<circle class="b" cx="107.49" cy="337.82" r="1.45"/>
<circle class="p" cx="141.21" cy="310.68" r="1.3"/>
<circle class="p" cx="131.95" cy="324.52" r="1.3"/>
<circle class="b" cx="122.3" cy="338.57" r="1.45"/>
<circle class="b" cx="101.52" cy="340.15" r="1.45"/>
<circle class="b" cx="128.57" cy="329.31" r="1.45"/>
<circle class="b" cx="110.56" cy="345.07" r="1.45"/>
<circle class="p" cx="133.55" cy="313.41" r="1.3"/>
<circle class="b" cx="129.27" cy="328.19" r="1.45"/>
<circle class="p" cx="134.55" cy="315.96" r="1.3"/>
<circle class="b" cx="131.47" cy="314.53" r="1.45"/>
<circle class="p" cx="58.81" cy="325.06" r="1.3"/>
<circle class="b" cx="135.05" cy="309.44" r="1.45"/>
<circle class="b" cx="76.9" cy="323.58" r="1.45"/>
<circle class="b" cx="120.53" cy="321.03" r="1.45"/>
<circle class="b" cx="129.45" cy="345.52" r="1.45"/>
<circle class="p" cx="112.56" cy="338.04" r="1.3"/>
<circle class="b" cx="131.74" cy="337.27" r="1.45"/>
<circle class="b" cx="99.44" cy="337.8" r="1.45"/>
<circle class="p" cx="123.19" cy="337.66" r="1.3"/>
<circle class="b" cx="139.72" cy="312.31" r="1.45"/>
<circle class="p" cx="117.72" cy="340.4" r="1.3"/>
<circle class="p" cx="88.62" cy="324.42" r="1.3"/>
<circle class="b" cx="86.23" cy="333.59" r="1.45"/>
<circle class="b" cx="135.73" cy="320.45" r="1.45"/>
<circle class="b" cx="116.13" cy="343.55" r="1.45"/>
<circle class="p" cx="119.12" cy="336.32" r="1.3"/>
<circle class="b" cx="125.81" cy="310.64" r="1.45"/>
<circle class="p" cx="118.62" cy="341.83" r="1.3"/>
<circle class="b" cx="132.25" cy="325.65" r="1.45"/>
<circle class="b" cx="128.88" cy="317.48" r="1.45"/>
<circle class="p" cx="85.42" cy="340.93" r="1.3"/>
<circle class="b" cx="116.97" cy="303.48" r="1.45"/>
<circle class="b" cx="107.59" cy="337.62" r="1.45"/>
<circle class="p" cx="124.11" cy="318.69" r="1.3"/>
<circle class="b" cx="129.46" cy="328.39" r="1.45"/>
<circle class="b" cx="130.66" cy="323.81" r="1.45"/>
<circle class="b" cx="127.28" cy="327.27" r="1.45"/>
<circle class="b" cx="110.76" cy="342.62" r="1.45"/>
<circle class="p" cx="113.65" cy="343.85" r="1.3"/>
<circle class="b" cx="94.96" cy="342.48" r="1.45"/>
<circle class="b" cx="136.33" cy="323.82" r="1.45"/>
<circle class="b" cx="117.73" cy="331.12" r="1.45"/>
<circle class="b" cx="114.95" cy="335.6" r="1.45"/>
<circle class="b" cx="125.31" cy="310.54" r="1.45"/>
<circle class="p" cx="133.25" cy="320.45" r="1.3"/>
<circle class="b" cx="129.45" cy="337.67" r="1.45"/>
<circle class="b" cx="121.41" cy="331.64" r="1.45"/>
<circle class="p" cx="114.47" cy="315.81" r="1.3"/>
<circle class="p" cx="126.57" cy="335.63" r="1.3"/>
<circle class="b" cx="130.37" cy="315.95" r="1.45"/>
<circle class="b" cx="121.81" cy="331.43" r="1.45"/>
<circle class="o" cx="52.2" cy="338.3" r="1.45"/>
<circle class="o" cx="53.7" cy="353.8" r="1.45"/>
<circle class="o" cx="59.7" cy="349.8" r="1.45"/>
<circle class="o" cx="56.2" cy="319.8" r="1.45"/>
<circle class="o" cx="57.5" cy="314.3" r="1.45"/>
<circle class="o" cx="55.1" cy="355" r="1.45"/>
<circle class="o" cx="59.1" cy="345.2" r="1.45"/>
<circle class="o" cx="61.6" cy="351.6" r="1.45"/>
<circle class="o" cx="57.2" cy="316.6" r="1.45"/>
<circle class="o" cx="55.1" cy="339.4" r="1.45"/>
<circle class="o" cx="57.2" cy="360.3" r="1.45"/>
<path class="r" d="M112.58 312.89L114.48 316.31L110.68 316.31Z"/>
<circle class="b" cx="314.72" cy="321.34" r="1.45"/>
<circle class="b" cx="286.21" cy="338.6" r="1.45"/>
<circle class="b" cx="293.88" cy="320.4" r="1.45"/>
<circle class="b" cx="306.88" cy="324.76" r="1.45"/>
<circle class="p" cx="226.23" cy="341.91" r="1.3"/>
<circle class="b" cx="247.52" cy="323.68" r="1.45"/>
<circle class="p" cx="293.48" cy="324.78" r="1.3"/>
<circle class="b" cx="313.35" cy="319.29" r="1.45"/>
<circle class="b" cx="281.83" cy="343.06" r="1.45"/>
<circle class="p" cx="233.43" cy="334.61" r="1.3"/>
<circle class="b" cx="312.51" cy="318.57" r="1.45"/>
<circle class="p" cx="310.44" cy="324.88" r="1.3"/>
<circle class="b" cx="318.65" cy="310.76" r="1.45"/>
<circle class="b" cx="308.9" cy="333.13" r="1.45"/>
<circle class="p" cx="303.46" cy="332.69" r="1.3"/>
<circle class="b" cx="309.66" cy="313.66" r="1.45"/>
<circle class="p" cx="250.23" cy="320.54" r="1.3"/>
<circle class="p" cx="234.87" cy="327.58" r="1.3"/>
<circle class="b" cx="305.31" cy="324.54" r="1.45"/>
<circle class="b" cx="296.99" cy="337.95" r="1.45"/>
<circle class="p" cx="264.06" cy="324.29" r="1.3"/>
<circle class="b" cx="309.07" cy="322.73" r="1.45"/>
<circle class="b" cx="286.96" cy="343.4" r="1.45"/>
<circle class="b" cx="311.88" cy="317.55" r="1.45"/>
<circle class="b" cx="316.38" cy="316.76" r="1.45"/>
<circle class="p" cx="310.06" cy="334.57" r="1.3"/>
<circle class="p" cx="306.18" cy="331.79" r="1.3"/>
<circle class="b" cx="289.13" cy="335.87" r="1.45"/>
<circle class="p" cx="281.51" cy="342.96" r="1.3"/>
<circle class="b" cx="314.09" cy="321.95" r="1.45"/>
<circle class="p" cx="304.28" cy="329.84" r="1.3"/>
<circle class="b" cx="307.65" cy="333.12" r="1.45"/>
<circle class="p" cx="233.69" cy="320.74" r="1.3"/>
<circle class="b" cx="287.65" cy="333.51" r="1.45"/>
<circle class="b" cx="311.16" cy="320.6" r="1.45"/>
<circle class="p" cx="261.3" cy="339.88" r="1.3"/>
<circle class="b" cx="314.69" cy="314.4" r="1.45"/>
<circle class="b" cx="314.06" cy="314.2" r="1.45"/>
<circle class="b" cx="291.01" cy="335.78" r="1.45"/>
<circle class="p" cx="283.39" cy="340.42" r="1.3"/>
<circle class="p" cx="297.5" cy="335.82" r="1.3"/>
<circle class="b" cx="312.59" cy="313.06" r="1.45"/>
<circle class="p" cx="291.56" cy="315.59" r="1.3"/>
<circle class="b" cx="292.89" cy="335.38" r="1.45"/>
<circle class="b" cx="295.31" cy="337.23" r="1.45"/>
<circle class="p" cx="291.22" cy="335.88" r="1.3"/>
<circle class="b" cx="311.79" cy="322.34" r="1.45"/>
<circle class="b" cx="310.48" cy="333.85" r="1.45"/>
<circle class="b" cx="284.32" cy="337.37" r="1.45"/>
<circle class="b" cx="320.92" cy="327.9" r="1.45"/>
<circle class="b" cx="305.28" cy="318.22" r="1.45"/>
<circle class="p" cx="299.83" cy="341.44" r="1.3"/>
<circle class="p" cx="293.38" cy="324.98" r="1.3"/>
<circle class="p" cx="303.35" cy="332.49" r="1.3"/>
<circle class="p" cx="291.46" cy="342.81" r="1.3"/>
<circle class="b" cx="274.45" cy="330.47" r="1.45"/>
<circle class="p" cx="308.32" cy="317.83" r="1.3"/>
<circle class="p" cx="234.82" cy="315.86" r="1.3"/>
<circle class="b" cx="309.05" cy="316.51" r="1.45"/>
<circle class="b" cx="303.38" cy="340.03" r="1.45"/>
<circle class="b" cx="294.04" cy="333.75" r="1.45"/>
<circle class="b" cx="300.51" cy="328.49" r="1.45"/>
<circle class="b" cx="311.9" cy="323.46" r="1.45"/>
<circle class="b" cx="292.69" cy="335.89" r="1.45"/>
<circle class="p" cx="222.96" cy="333.83" r="1.3"/>
<circle class="b" cx="311.94" cy="333.66" r="1.45"/>
<circle class="p" cx="311.89" cy="319.99" r="1.3"/>
<circle class="b" cx="301.52" cy="318.5" r="1.45"/>
<circle class="b" cx="309.49" cy="321.92" r="1.45"/>
<circle class="b" cx="313.33" cy="313.17" r="1.45"/>
<circle class="p" cx="306.88" cy="324.15" r="1.3"/>
<circle class="b" cx="315.32" cy="315.63" r="1.45"/>
<circle class="b" cx="316.85" cy="330.12" r="1.45"/>
<circle class="p" cx="311.21" cy="334.57" r="1.3"/>
<circle class="b" cx="309.11" cy="333.13" r="1.45"/>
<circle class="p" cx="260" cy="330.08" r="1.3"/>
<circle class="p" cx="301.83" cy="317.79" r="1.3"/>
<circle class="p" cx="245.72" cy="318.27" r="1.3"/>
<circle class="b" cx="323.31" cy="323.94" r="1.45"/>
<circle class="p" cx="304.8" cy="328.21" r="1.3"/>
<circle class="b" cx="285.69" cy="339.11" r="1.45"/>
<circle class="b" cx="291.27" cy="321.5" r="1.45"/>
<circle class="b" cx="298.33" cy="333.07" r="1.45"/>
<circle class="b" cx="307.14" cy="310.79" r="1.45"/>
<circle class="b" cx="294.79" cy="337.23" r="1.45"/>
<circle class="b" cx="298.13" cy="336.84" r="1.45"/>
<circle class="b" cx="245.73" cy="322.24" r="1.45"/>
<circle class="p" cx="223.71" cy="338.63" r="1.3"/>
<circle class="b" cx="303.38" cy="339.62" r="1.45"/>
<circle class="p" cx="283.39" cy="340.62" r="1.3"/>
<circle class="p" cx="235.71" cy="329.93" r="1.3"/>
<circle class="p" cx="303.86" cy="327.8" r="1.3"/>
<circle class="b" cx="290.96" cy="321.91" r="1.45"/>
<circle class="b" cx="304.83" cy="335.45" r="1.45"/>
<circle class="b" cx="255.96" cy="339.44" r="1.45"/>
<circle class="p" cx="286.94" cy="338.61" r="1.3"/>
<circle class="p" cx="301.09" cy="317.48" r="1.3"/>
<circle class="b" cx="284" cy="337.36" r="1.45"/>
<circle class="p" cx="319.39" cy="310.35" r="1.3"/>
<circle class="p" cx="309.7" cy="324.16" r="1.3"/>
<circle class="b" cx="299.6" cy="338.17" r="1.45"/>
<circle class="b" cx="277.73" cy="339.67" r="1.45"/>
<circle class="b" cx="306.16" cy="328.93" r="1.45"/>
<circle class="b" cx="287.28" cy="344.62" r="1.45"/>
<circle class="p" cx="311.34" cy="313.06" r="1.3"/>
<circle class="b" cx="306.89" cy="327.82" r="1.45"/>
<circle class="p" cx="312.39" cy="315.61" r="1.3"/>
<circle class="b" cx="309.14" cy="314.17" r="1.45"/>
<circle class="p" cx="232.66" cy="324.41" r="1.3"/>
<circle class="b" cx="312.89" cy="309.09" r="1.45"/>
<circle class="b" cx="251.7" cy="322.99" r="1.45"/>
<circle class="b" cx="297.65" cy="320.62" r="1.45"/>
<circle class="b" cx="307.17" cy="345.15" r="1.45"/>
<circle class="p" cx="289.34" cy="337.6" r="1.3"/>
<circle class="b" cx="309.55" cy="336.91" r="1.45"/>
<circle class="b" cx="275.52" cy="337.31" r="1.45"/>
<circle class="p" cx="300.54" cy="337.26" r="1.3"/>
<circle class="b" cx="317.82" cy="311.97" r="1.45"/>
<circle class="p" cx="294.8" cy="339.98" r="1.3"/>
<circle class="p" cx="264.06" cy="323.89" r="1.3"/>
<circle class="b" cx="261.58" cy="333.05" r="1.45"/>
<circle class="b" cx="313.67" cy="320.11" r="1.45"/>
<circle class="b" cx="293.13" cy="343.13" r="1.45"/>
<circle class="p" cx="296.25" cy="335.91" r="1.3"/>
<circle class="b" cx="303.16" cy="310.25" r="1.45"/>
<circle class="p" cx="295.74" cy="341.41" r="1.3"/>
<circle class="b" cx="310.02" cy="325.29" r="1.45"/>
<circle class="b" cx="306.43" cy="317.11" r="1.45"/>
<circle class="p" cx="260.78" cy="340.39" r="1.3"/>
<circle class="b" cx="293.81" cy="303.06" r="1.45"/>
<circle class="b" cx="284.11" cy="337.16" r="1.45"/>
<circle class="p" cx="301.41" cy="318.3" r="1.3"/>
<circle class="b" cx="307.1" cy="328.02" r="1.45"/>
<circle class="b" cx="308.34" cy="323.44" r="1.45"/>
<circle class="b" cx="304.79" cy="326.89" r="1.45"/>
<circle class="b" cx="287.48" cy="342.18" r="1.45"/>
<circle class="p" cx="290.52" cy="343.42" r="1.3"/>
<circle class="b" cx="270.83" cy="341.98" r="1.45"/>
<circle class="b" cx="314.31" cy="323.48" r="1.45"/>
<circle class="b" cx="294.76" cy="330.7" r="1.45"/>
<circle class="b" cx="291.85" cy="335.17" r="1.45"/>
<circle class="b" cx="302.64" cy="310.15" r="1.45"/>
<circle class="p" cx="311.05" cy="320.09" r="1.3"/>
<circle class="b" cx="307.14" cy="337.3" r="1.45"/>
<circle class="b" cx="298.64" cy="331.23" r="1.45"/>
<circle class="p" cx="291.25" cy="315.38" r="1.3"/>
<circle class="p" cx="304.09" cy="335.24" r="1.3"/>
<circle class="b" cx="308" cy="315.59" r="1.45"/>
<circle class="b" cx="299.05" cy="331.03" r="1.45"/>
<circle class="o" cx="229.4" cy="354.5" r="1.45"/>
<circle class="o" cx="293.3" cy="342.8" r="1.45"/>
<circle class="o" cx="298.1" cy="335.7" r="1.45"/>
<circle class="o" cx="229.1" cy="338.7" r="1.45"/>
<circle class="o" cx="298" cy="337.1" r="1.45"/>
<circle class="o" cx="320.1" cy="334.7" r="1.45"/>
<circle class="o" cx="231.3" cy="313.2" r="1.45"/>
<circle class="o" cx="312.9" cy="324.5" r="1.45"/>
<circle class="o" cx="299.8" cy="334.7" r="1.45"/>
<circle class="o" cx="302.8" cy="337.5" r="1.45"/>
<circle class="o" cx="300.5" cy="333.3" r="1.45"/>
<circle class="o" cx="305.8" cy="335.9" r="1.45"/>
<circle class="o" cx="289.7" cy="341.1" r="1.45"/>
<circle class="o" cx="316.5" cy="332.3" r="1.45"/>
<circle class="o" cx="302.2" cy="335.9" r="1.45"/>
<circle class="o" cx="295.6" cy="338.9" r="1.45"/>
<circle class="o" cx="226.2" cy="337.3" r="1.45"/>
<circle class="o" cx="314.1" cy="328.7" r="1.45"/>
<circle class="o" cx="248.3" cy="326.5" r="1.45"/>
<circle class="o" cx="310" cy="328.7" r="1.45"/>
<path class="r" d="M228 320.3L229.9 323.72L226.1 323.72Z"/>
<path class="r" d="M238.3 360.2L240.2 363.62L236.4 363.62Z"/>
<path class="r" d="M289.25 312.45L291.15 315.87L287.35 315.87Z"/>
<path class="r" d="M238.3 361.9L240.2 365.32L236.4 365.32Z"/>
<path class="r" d="M239.4 357.4L241.3 360.82L237.5 360.82Z"/>
<path class="r" d="M242 351.2L243.9 354.62L240.1 354.62Z"/>
<path class="r" d="M231.3 328.6L233.2 332.02L229.4 332.02Z"/>
<path class="r" d="M235.9 353.3L237.8 356.72L234 356.72Z"/>
<path class="r" d="M243 348.7L244.9 352.12L241.1 352.12Z"/>
<path class="r" d="M235.4 342.1L237.3 345.52L233.5 345.52Z"/>
<circle class="b" cx="490.97" cy="322.78" r="1.45"/>
<circle class="b" cx="464.1" cy="340.16" r="1.45"/>
<circle class="b" cx="471.33" cy="321.98" r="1.45"/>
<circle class="b" cx="483.58" cy="326.24" r="1.45"/>
<circle class="q" cx="470.79" cy="344.3" r="1.45"/>
<circle class="p" cx="407.57" cy="343.86" r="1.3"/>
<circle class="b" cx="427.62" cy="325.57" r="1.45"/>
<circle class="p" cx="470.95" cy="326.35" r="1.3"/>
<circle class="b" cx="489.68" cy="320.75" r="1.45"/>
<circle class="b" cx="459.98" cy="344.63" r="1.45"/>
<circle class="p" cx="414.35" cy="336.54" r="1.3"/>
<circle class="b" cx="488.89" cy="320.04" r="1.45"/>
<circle class="p" cx="486.94" cy="326.34" r="1.3"/>
<circle class="b" cx="494.67" cy="312.22" r="1.45"/>
<circle class="b" cx="485.49" cy="334.56" r="1.45"/>
<circle class="p" cx="480.36" cy="334.16" r="1.3"/>
<circle class="b" cx="486.2" cy="315.17" r="1.45"/>
<circle class="p" cx="430.17" cy="322.42" r="1.3"/>
<circle class="p" cx="415.7" cy="329.54" r="1.3"/>
<circle class="b" cx="482.1" cy="326.04" r="1.45"/>
<circle class="b" cx="474.26" cy="339.45" r="1.45"/>
<circle class="p" cx="443.22" cy="326.06" r="1.3"/>
<circle class="b" cx="485.65" cy="324.21" r="1.45"/>
<circle class="b" cx="464.81" cy="344.93" r="1.45"/>
<circle class="b" cx="488.29" cy="319.03" r="1.45"/>
<circle class="b" cx="492.53" cy="318.21" r="1.45"/>
<circle class="p" cx="486.59" cy="335.98" r="1.3"/>
<circle class="p" cx="482.92" cy="333.25" r="1.3"/>
<circle class="b" cx="466.85" cy="337.42" r="1.45"/>
<circle class="p" cx="459.68" cy="344.53" r="1.3"/>
<circle class="b" cx="490.38" cy="323.39" r="1.45"/>
<circle class="p" cx="481.14" cy="331.32" r="1.3"/>
<circle class="q" cx="475.31" cy="337.19" r="1.45"/>
<circle class="b" cx="484.31" cy="334.56" r="1.45"/>
<circle class="p" cx="414.58" cy="322.73" r="1.3"/>
<circle class="b" cx="465.46" cy="335.09" r="1.45"/>
<circle class="b" cx="487.61" cy="322.07" r="1.45"/>
<circle class="p" cx="440.62" cy="341.6" r="1.3"/>
<circle class="b" cx="490.94" cy="315.88" r="1.45"/>
<circle class="q" cx="475.22" cy="338.59" r="1.45"/>
<circle class="b" cx="490.35" cy="315.68" r="1.45"/>
<circle class="b" cx="468.63" cy="337.32" r="1.45"/>
<circle class="p" cx="461.45" cy="341.99" r="1.3"/>
<circle class="p" cx="474.75" cy="337.31" r="1.3"/>
<circle class="b" cx="488.96" cy="314.56" r="1.45"/>
<circle class="p" cx="469.13" cy="317.21" r="1.3"/>
<circle class="b" cx="470.4" cy="336.91" r="1.45"/>
<circle class="b" cx="472.68" cy="338.74" r="1.45"/>
<circle class="p" cx="468.83" cy="337.42" r="1.3"/>
<circle class="b" cx="488.21" cy="323.8" r="1.45"/>
<circle class="b" cx="486.98" cy="335.27" r="1.45"/>
<circle class="q" cx="496.05" cy="336.05" r="1.45"/>
<circle class="b" cx="462.32" cy="338.95" r="1.45"/>
<circle class="b" cx="496.82" cy="329.28" r="1.45"/>
<circle class="b" cx="482.07" cy="319.74" r="1.45"/>
<circle class="p" cx="476.94" cy="342.9" r="1.3"/>
<circle class="p" cx="470.85" cy="326.55" r="1.3"/>
<circle class="p" cx="480.26" cy="333.96" r="1.3"/>
<circle class="p" cx="469.06" cy="344.32" r="1.3"/>
<circle class="b" cx="453.01" cy="332.15" r="1.45"/>
<circle class="p" cx="484.93" cy="319.33" r="1.3"/>
<circle class="p" cx="415.65" cy="317.86" r="1.3"/>
<circle class="q" cx="489.26" cy="325.94" r="1.45"/>
<circle class="b" cx="485.62" cy="318.01" r="1.45"/>
<circle class="b" cx="480.29" cy="341.47" r="1.45"/>
<circle class="b" cx="471.48" cy="335.28" r="1.45"/>
<circle class="b" cx="477.58" cy="330" r="1.45"/>
<circle class="b" cx="488.31" cy="324.92" r="1.45"/>
<circle class="b" cx="470.21" cy="337.42" r="1.45"/>
<circle class="p" cx="404.47" cy="335.84" r="1.3"/>
<circle class="q" cx="476.91" cy="336.19" r="1.45"/>
<circle class="b" cx="488.36" cy="335.07" r="1.45"/>
<circle class="p" cx="488.3" cy="321.46" r="1.3"/>
<circle class="b" cx="478.52" cy="320.05" r="1.45"/>
<circle class="b" cx="486.04" cy="323.39" r="1.45"/>
<circle class="b" cx="489.65" cy="314.66" r="1.45"/>
<circle class="p" cx="483.58" cy="325.63" r="1.3"/>
<circle class="b" cx="491.54" cy="317.1" r="1.45"/>
<circle class="b" cx="492.98" cy="331.51" r="1.45"/>
<circle class="p" cx="487.67" cy="335.98" r="1.3"/>
<circle class="b" cx="485.69" cy="334.56" r="1.45"/>
<circle class="p" cx="439.39" cy="331.85" r="1.3"/>
<circle class="p" cx="478.82" cy="319.34" r="1.3"/>
<circle class="p" cx="425.92" cy="320.19" r="1.3"/>
<circle class="b" cx="499.07" cy="325.31" r="1.45"/>
<circle class="p" cx="481.62" cy="329.69" r="1.3"/>
<circle class="b" cx="463.61" cy="340.67" r="1.45"/>
<circle class="b" cx="468.86" cy="323.1" r="1.45"/>
<circle class="b" cx="475.53" cy="334.57" r="1.45"/>
<circle class="b" cx="483.82" cy="312.33" r="1.45"/>
<circle class="b" cx="472.19" cy="338.74" r="1.45"/>
<circle class="b" cx="475.35" cy="338.33" r="1.45"/>
<circle class="b" cx="425.94" cy="324.15" r="1.45"/>
<circle class="p" cx="405.19" cy="340.61" r="1.3"/>
<circle class="b" cx="480.29" cy="341.07" r="1.45"/>
<circle class="p" cx="461.45" cy="342.2" r="1.3"/>
<circle class="q" cx="479.74" cy="338.95" r="1.45"/>
<circle class="q" cx="477.57" cy="334.79" r="1.45"/>
<circle class="q" cx="482.57" cy="337.34" r="1.45"/>
<circle class="p" cx="416.5" cy="331.87" r="1.3"/>
<circle class="q" cx="467.4" cy="342.63" r="1.45"/>
<circle class="p" cx="480.73" cy="329.29" r="1.3"/>
<circle class="b" cx="468.57" cy="323.51" r="1.45"/>
<circle class="b" cx="481.66" cy="336.9" r="1.45"/>
<circle class="b" cx="435.59" cy="341.2" r="1.45"/>
<circle class="p" cx="464.79" cy="340.16" r="1.3"/>
<circle class="p" cx="478.12" cy="319.03" r="1.3"/>
<circle class="b" cx="462.02" cy="338.95" r="1.45"/>
<circle class="p" cx="495.36" cy="311.81" r="1.3"/>
<circle class="p" cx="486.25" cy="325.63" r="1.3"/>
<circle class="b" cx="476.73" cy="339.65" r="1.45"/>
<circle class="b" cx="456.11" cy="341.29" r="1.45"/>
<circle class="b" cx="482.91" cy="330.4" r="1.45"/>
<circle class="b" cx="465.12" cy="346.15" r="1.45"/>
<circle class="p" cx="487.78" cy="314.56" r="1.3"/>
<circle class="b" cx="483.6" cy="329.29" r="1.45"/>
<circle class="p" cx="488.77" cy="317.1" r="1.3"/>
<circle class="b" cx="485.71" cy="315.68" r="1.45"/>
<circle class="p" cx="413.61" cy="326.39" r="1.3"/>
<circle class="b" cx="489.24" cy="310.6" r="1.45"/>
<circle class="b" cx="431.57" cy="324.85" r="1.45"/>
<circle class="b" cx="474.88" cy="322.18" r="1.45"/>
<circle class="b" cx="483.87" cy="346.55" r="1.45"/>
<circle class="p" cx="467.06" cy="339.15" r="1.3"/>
<circle class="b" cx="486.1" cy="338.32" r="1.45"/>
<circle class="b" cx="454.03" cy="338.95" r="1.45"/>
<circle class="q" cx="492.66" cy="333.69" r="1.45"/>
<circle class="p" cx="477.62" cy="338.73" r="1.3"/>
<circle class="b" cx="493.89" cy="313.44" r="1.45"/>
<circle class="p" cx="472.2" cy="341.48" r="1.3"/>
<circle class="p" cx="443.22" cy="325.66" r="1.3"/>
<circle class="b" cx="440.89" cy="334.8" r="1.45"/>
<circle class="b" cx="489.98" cy="321.56" r="1.45"/>
<circle class="q" cx="479.18" cy="337.37" r="1.45"/>
<circle class="q" cx="472.96" cy="340.4" r="1.45"/>
<circle class="b" cx="470.64" cy="344.63" r="1.45"/>
<circle class="p" cx="473.57" cy="337.42" r="1.3"/>
<circle class="b" cx="480.07" cy="311.82" r="1.45"/>
<circle class="p" cx="473.1" cy="342.9" r="1.3"/>
<circle class="b" cx="486.55" cy="326.75" r="1.45"/>
<circle class="b" cx="483.16" cy="318.62" r="1.45"/>
<circle class="p" cx="440.13" cy="342.11" r="1.3"/>
<circle class="b" cx="471.25" cy="304.72" r="1.45"/>
<circle class="b" cx="462.12" cy="338.74" r="1.45"/>
<circle class="p" cx="478.42" cy="319.85" r="1.3"/>
<circle class="q" cx="490.39" cy="330.12" r="1.45"/>
<circle class="b" cx="483.79" cy="329.49" r="1.45"/>
<circle class="b" cx="484.96" cy="324.92" r="1.45"/>
<circle class="b" cx="481.62" cy="328.37" r="1.45"/>
<circle class="b" cx="465.3" cy="343.72" r="1.45"/>
<circle class="p" cx="468.17" cy="344.93" r="1.3"/>
<circle class="b" cx="449.61" cy="343.63" r="1.45"/>
<circle class="b" cx="490.58" cy="324.91" r="1.45"/>
<circle class="b" cx="472.16" cy="332.24" r="1.45"/>
<circle class="b" cx="469.42" cy="336.71" r="1.45"/>
<circle class="b" cx="479.57" cy="311.72" r="1.45"/>
<circle class="p" cx="487.51" cy="321.57" r="1.3"/>
<circle class="b" cx="483.83" cy="338.73" r="1.45"/>
<circle class="b" cx="475.81" cy="332.74" r="1.45"/>
<circle class="p" cx="468.84" cy="317.01" r="1.3"/>
<circle class="q" cx="486.53" cy="330.14" r="1.45"/>
<circle class="p" cx="480.96" cy="336.7" r="1.3"/>
<circle class="b" cx="484.63" cy="317.1" r="1.45"/>
<circle class="b" cx="476.21" cy="332.54" r="1.45"/>
<circle class="o" cx="409.8" cy="355.5" r="1.45"/>
<circle class="o" cx="409.8" cy="339.7" r="1.45"/>
<circle class="t" cx="406.5" cy="318.9" r="1.45"/>
<circle class="t" cx="419.4" cy="360" r="1.45"/>
<circle class="o" cx="411.8" cy="315.3" r="1.45"/>
<circle class="t" cx="418.3" cy="363.1" r="1.45"/>
<circle class="t" cx="416.3" cy="356.2" r="1.45"/>
<circle class="t" cx="422.7" cy="351.6" r="1.45"/>
<circle class="t" cx="408.7" cy="324.1" r="1.45"/>
<circle class="t" cx="421.9" cy="354.5" r="1.45"/>
<circle class="o" cx="406.9" cy="338.7" r="1.45"/>
<circle class="t" cx="415.5" cy="345.5" r="1.45"/>
<circle class="o" cx="428" cy="327.7" r="1.45"/>
<circle class="t" cx="411.8" cy="331.8" r="1.45"/>
<path class="r" d="M466.96 314.1L468.86 317.52L465.06 317.52Z"/>
<path class="arr" d="M172.2 60.5L183.2 60.5L183.2 56.5L192 65.4L183.2 74.2L183.2 70.4L172.2 70.4Z"/>
<path class="arr" d="M349.3 60.7L360.4 60.7L360.4 56.5L368.9 65.4L360.4 74.2L360.4 70.4L349.3 70.4Z"/>
<path class="arr" d="M445.3 122.2L445.3 135.3L441 135.3L450.1 144.2L459.2 135.3L455.1 135.3L455.1 122.2Z"/>
<path class="arr" d="M369.5 198.4L357.6 198.4L357.6 194.4L349.2 203L357.6 212.4L357.6 207.4L369.5 207.4Z"/>
<path class="arr" d="M188.7 198.4L177.4 198.4L177.4 194.6L168.8 203.2L177.4 212.3L177.4 208L188.7 208Z"/>
<path class="arr" d="M91.5 260.7L91.5 274.7L87.3 274.7L96.3 283L105.5 274.7L101.3 274.7L101.3 260.7Z"/>
<path class="arr" d="M168.4 336.3L179.6 336.3L179.6 331.7L187.9 340.8L179.6 349.7L179.6 345.6L168.4 345.6Z"/>
<path class="arr" d="M349.3 336.3L360.4 336.3L360.4 331.5L368.9 340.8L360.4 349.7L360.4 345.4L349.3 345.4Z"/>
<text class="cap" x="7.1" y="135.5" textLength="169.1" lengthAdjust="spacing">(a) The first cluster and some outliers, at</text><text class="cap xi" x="177.8" y="134.9">x</text><text class="cap sub" transform="translate(183.2 136.8) scale(0.5)">15</text>
<text class="cap" x="198.2" y="135.5" textLength="135.2" lengthAdjust="spacing">(b) Accumulate more outliers, at</text><text class="cap xi" x="334.8" y="134.9">x</text><text class="cap sub" transform="translate(340 136.8) scale(0.5)">48</text>
<text class="cap" x="357.5" y="135.5" textLength="173.8" lengthAdjust="spacing">(c)&#160; Generate new cluster from outliers, at</text><text class="cap xi" x="533.8" y="134.9">x</text><text class="cap sub" transform="translate(539 136.8) scale(0.5)">49</text>
<text class="cap" x="385.1" y="272.3" textLength="123.6" lengthAdjust="spacing">(d) Accumulate more data , at</text><text class="cap xi" x="510.9" y="271.7">x</text><text class="cap sub" transform="translate(515.7 273.6) scale(0.5)">67</text>
<text class="cap" x="183.2" y="272.3" textLength="169.1" lengthAdjust="spacing">(e) Delete outdated data in the cluster, at</text><text class="cap xi" x="353.3" y="271.7">x</text><text class="cap sub" transform="translate(358.2 273.6) scale(0.5)">68</text>
<text class="cap" x="24.1" y="272.3" textLength="133.9" lengthAdjust="spacing">(f) Accumulate more outliers, at</text><text class="cap xi" x="159.8" y="271.7">x</text><text class="cap sub" transform="translate(165 273.6) scale(0.5)">359</text>
<text class="cap" x="6" y="409.8" textLength="172" lengthAdjust="spacing">(g) Generate new cluster from outliers, at</text><text class="cap xi" x="179.1" y="409.2">x</text><text class="cap sub" transform="translate(183.9 411.1) scale(0.5)">360</text>
<text class="cap" x="200.5" y="409.8" textLength="135.7" lengthAdjust="spacing">(h) Accumulate more outliers, at</text><text class="cap xi" x="336.9" y="409.2">x</text><text class="cap sub" transform="translate(341.7 411.1) scale(0.5)">580</text>
<text class="cap" x="359.6" y="409.8" textLength="170.6" lengthAdjust="spacing">(i) Generate new cluster from outliers, at</text><text class="cap xi" x="530.9" y="409.2">x</text><text class="cap sub" transform="translate(535.7 411.1) scale(0.5)">581</text>
</svg>
</body></html>
